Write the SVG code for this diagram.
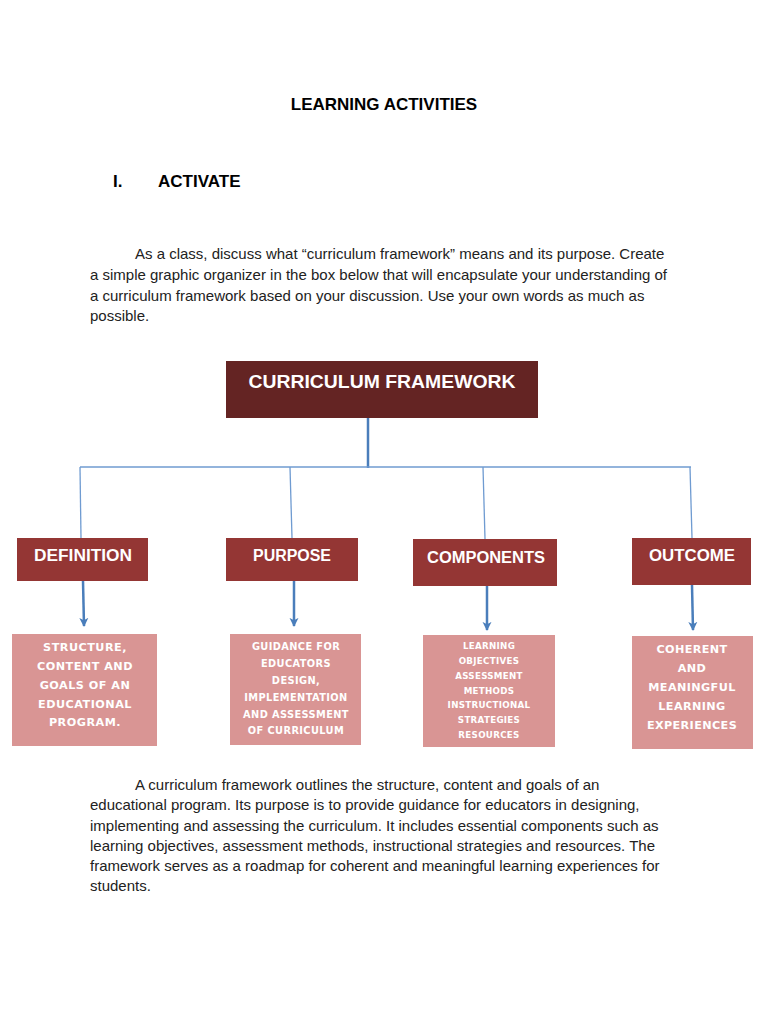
<svg xmlns="http://www.w3.org/2000/svg" width="768" height="1024" viewBox="0 0 768 1024">
<defs>
<marker id="ah" viewBox="0 0 10 10" refX="9" refY="5" markerWidth="3.6" markerHeight="4.2" orient="auto" markerUnits="strokeWidth">
<path d="M0,0 L10,5 L0,10 L2.5,5 Z" fill="#4a7ebb"/>
</marker>
<style>
.body{font-family:"Liberation Sans",Arial,sans-serif;font-size:15px;fill:#222}
.hd{font-family:"Liberation Sans",Arial,sans-serif;font-weight:bold;font-size:17px;fill:#000}
.top{fill:#642423}
.mid{fill:#943634}
.pink{fill:#d99594}
.bt{font-family:"Liberation Sans",Arial,sans-serif;font-weight:bold;fill:#fff;text-anchor:middle}
.pt{font-family:"DejaVu Sans",sans-serif;font-weight:bold;fill:#fff;text-anchor:middle}
.ln{stroke:#6f9bd1;stroke-width:1.3;fill:none}
.ar{stroke:#4a7ebb;stroke-width:2.5;fill:none}
</style>
</defs>
<rect width="768" height="1024" fill="#fff"/>
<text class="hd" x="384" y="110" text-anchor="middle">LEARNING ACTIVITIES</text>
<text class="hd" x="113" y="187">I.</text>
<text class="hd" x="158" y="187">ACTIVATE</text>
<g class="body">
<text x="135" y="259">As a class, discuss what “curriculum framework” means and its purpose. Create</text>
<text x="90" y="280">a simple graphic organizer in the box below that will encapsulate your understanding of</text>
<text x="90" y="301">a curriculum framework based on your discussion. Use your own words as much as</text>
<text x="90" y="321">possible.</text>
</g>
<g id="connectors">
<line class="ar" x1="368" y1="418" x2="368" y2="468"/>
<line class="ln" x1="80" y1="467" x2="691" y2="467"/>
<line class="ln" x1="80" y1="467" x2="81" y2="538"/>
<line class="ln" x1="290" y1="467" x2="292" y2="538"/>
<line class="ln" x1="483" y1="467" x2="485" y2="539"/>
<line class="ln" x1="690" y1="467" x2="692" y2="538"/>
<line class="ar" x1="83" y1="581" x2="84" y2="626" marker-end="url(#ah)"/>
<line class="ar" x1="294" y1="581" x2="294" y2="626" marker-end="url(#ah)"/>
<line class="ar" x1="487" y1="586" x2="487" y2="630" marker-end="url(#ah)"/>
<line class="ar" x1="692" y1="585" x2="693" y2="630" marker-end="url(#ah)"/>
</g>
<g id="framework">
<rect class="top" x="226" y="361" width="312" height="57"/>
<text class="bt" x="382" y="388" font-size="18" textLength="267" lengthAdjust="spacingAndGlyphs">CURRICULUM FRAMEWORK</text>
</g>
<g id="definition">
<rect class="mid" x="17" y="538" width="131" height="43"/>
<text class="bt" x="83" y="561" font-size="16" textLength="98" lengthAdjust="spacingAndGlyphs">DEFINITION</text>
</g>
<g id="purpose">
<rect class="mid" x="226" y="538" width="132" height="43"/>
<text class="bt" x="292" y="561" font-size="16" textLength="78" lengthAdjust="spacingAndGlyphs">PURPOSE</text>
</g>
<g id="components">
<rect class="mid" x="413" y="539" width="144" height="47"/>
<text class="bt" x="486" y="563" font-size="16" textLength="118" lengthAdjust="spacingAndGlyphs">COMPONENTS</text>
</g>
<g id="outcome">
<rect class="mid" x="632" y="538" width="119" height="47"/>
<text class="bt" x="692" y="561" font-size="16" textLength="86" lengthAdjust="spacingAndGlyphs">OUTCOME</text>
</g>
<g id="definition-detail">
<rect class="pink" x="12" y="634" width="145" height="112"/>
<g class="pt" font-size="11.2" letter-spacing="0.5">
<text x="85" y="651">STRUCTURE,</text>
<text x="85" y="670">CONTENT AND</text>
<text x="85" y="689">GOALS OF AN</text>
<text x="85" y="708">EDUCATIONAL</text>
<text x="85" y="726">PROGRAM.</text>
</g>
</g>
<g id="purpose-detail">
<rect class="pink" x="230" y="634" width="131" height="111"/>
<g class="pt" font-size="9.8" letter-spacing="0.4">
<text x="296" y="650">GUIDANCE FOR</text>
<text x="296" y="667">EDUCATORS</text>
<text x="296" y="684">DESIGN,</text>
<text x="296" y="701">IMPLEMENTATION</text>
<text x="296" y="718">AND ASSESSMENT</text>
<text x="296" y="734">OF CURRICULUM</text>
</g>
</g>
<g id="components-detail">
<rect class="pink" x="423" y="635" width="132" height="112"/>
<g class="pt" font-size="8.7" letter-spacing="0.3">
<text x="489" y="649">LEARNING</text>
<text x="489" y="664">OBJECTIVES</text>
<text x="489" y="679">ASSESSMENT</text>
<text x="489" y="694">METHODS</text>
<text x="489" y="708">INSTRUCTIONAL</text>
<text x="489" y="723">STRATEGIES</text>
<text x="489" y="738">RESOURCES</text>
</g>
</g>
<g id="outcome-detail">
<rect class="pink" x="632" y="636" width="121" height="113"/>
<g class="pt" font-size="11.2" letter-spacing="0.4">
<text x="692" y="653">COHERENT</text>
<text x="692" y="672">AND</text>
<text x="692" y="691">MEANINGFUL</text>
<text x="692" y="710">LEARNING</text>
<text x="692" y="729">EXPERIENCES</text>
</g>
</g>
<g class="body">
<text x="135" y="790">A curriculum framework outlines the structure, content and goals of an</text>
<text x="90" y="810">educational program. Its purpose is to provide guidance for educators in designing,</text>
<text x="90" y="831">implementing and assessing the curriculum. It includes essential components such as</text>
<text x="90" y="851">learning objectives, assessment methods, instructional strategies and resources. The</text>
<text x="90" y="871">framework serves as a roadmap for coherent and meaningful learning experiences for</text>
<text x="90" y="891">students.</text>
</g>
</svg>
